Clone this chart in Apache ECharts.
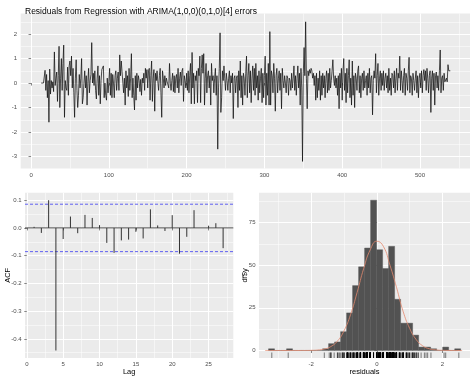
<!DOCTYPE html>
<html>
<head>
<meta charset="utf-8">
<script src="https://cdn.jsdelivr.net/npm/echarts@6/dist/echarts.min.js"></script>
<style>
html,body{margin:0;padding:0;background:#fff;}
#c{width:474px;height:379px;}
</style>
</head>
<body>
<div id="c"></div>
<script>
// ---------------- data ----------------
const chartTitle = 'Residuals from Regression with ARIMA(1,0,0)(0,1,0)[4] errors';
const tsStart = 13;
const residuals = [
0, 0, 0, 0, 0.01, 0.52, -0.3, 0.35, -0.6, 0.1,
-1.6, 0.57, -0.45, 0.1, -0.2, 0.05, -0.35, 1.27, -0.1, 0.2,
0.45, -0.75, 0.3, 1.5, -1.0, 0.2, 1.0, -0.3, 0.8, 1.55,
-1.4, 0.1, -0.2, -0.3, 0.65, -0.5, 0.7, 0.9, 0.3, 1.1,
-0.2, 0.6, -0.4, -1.4, 0.2, 0.95, -0.3, -1.0, -0.5, 0.35,
-0.2, 0.2, 1.0, -0.85, -0.6, 0.0, 0.5, -0.2, 0.3, -0.9,
0.05, 0.6, -0.4, 0.1, 0.35, 1.65, 0.0, 0.4, -0.1, 0.5,
-0.3, -0.65, 0.2, 0.7, -0.5, 0.3, -0.85, 0.1, 0.55, 0.5,
0.7, -0.6, 0.0, -0.5, -0.7, 0.2, -0.4, 0.05, 0.6, -0.5,
0.4, -0.6, 0.35, 0.0, -0.6, 0.3, 0.5, -0.3, 0.2, 0.45,
-0.3, 1.15, 0.3, 0.9, 0.45, 0.5, -0.4, 0.2, -0.9, 0.5,
-0.2, 0.3, -0.55, 0.6, -0.3, 0.2, 1.2, -0.6, 0.2, -0.5,
-1.1, 0.3, -0.7, 0.4, -0.2, 0.3, 0.1, -0.35, 0.15, -0.5,
0.2, 0.0, 0.4, -0.3, 0.6, 0.2, 0.55, -0.2, 0.5, 0.6,
-0.7, 0.3, 0.9, -0.75, 0.2, 0.55, -1.15, 0.4, 0.1, 0.5,
0.05, -0.3, 0.3, 0.6, -0.4, -1.4, 0.5, 0.2, -0.2, 0.3,
-0.1, 0.2, 0.05, 0.1, -0.2, 0.8, 0.0, -0.3, 0.1, 0.4,
-0.35, 0.3, -0.4, 0.2, 0.35, -0.2, 0.6, -0.4, 0.2, 0.45,
-0.1, 0.5, 0.6, -0.75, 0.3, 0.1, -0.2, 0.4, -0.3, 0.5,
-0.4, 0.3, 0.8, -0.85, 1.25, -0.2, 0.4, -0.85, 0.3, 0.1,
0.5, -0.8, 0.6, 0.3, 1.1, -0.8, 0.6, 1.15, 0.4, 1.2,
-0.9, 0.2, 0.8, -0.4, 0.3, 0.5, -0.2, 0.3, -0.9, 0.8,
0.1, 0.3, -0.4, 0.2, 0.6, -0.5, 0.3, -2.7, -0.2, 0.6,
2.05, -1.2, -0.6, 0.5, 0.1, 0.7, 0.2, -0.3, 0.4, 0.1,
-0.3, 0.2, 0.5, -0.4, 0.3, 0.0, 0.4, -1.45, 0.2, 0.3,
-0.4, 0.2, 0.3, -1.0, 0.5, -0.3, 0.9, -0.6, 0.3, -0.9,
0.4, 0.2, -0.5, 0.4, 1.1, -0.6, 0.3, 0.8, -0.4, 0.5,
-0.8, 0.2, 0.7, -0.3, 0.6, -0.5, 0.8, -0.2, 0.3, -0.7,
0.5, -0.4, 0.2, 0.6, -0.8, 0.4, -0.6, 0.3, 1.1, -0.9,
0.4, -0.5, 0.8, -0.9, 2.1, -0.9, 0.5, 0.3, -0.4, 0.8,
0.2, -1.15, 0.3, 0.6, -0.4, 0.2, 0.5, -0.3, 0.4, -1.05,
0.6, 0.1, -0.2, 0.3, 0.0, -0.4, 0.3, 0.2, -0.5, 0.2,
0.1, -0.3, 0.4, -0.2, 0.2, 0.7, -0.3, 0.3, -0.5, 0.2,
0.7, -0.2, 0.4, -0.9, 0.6, -0.2, -3.2, 0.4, 1.45, 0.3,
2.5, 0.2, -1.05, 0.5, 0.3, 0.55, 0.4, 0.6, 0.5, 0.2,
0.4, -0.1, 0.3, -0.7, 0.4, -0.6, 0.2, -0.3, 0.5, -0.7,
0.3, -0.5, 0.4, -0.2, 0.3, -0.6, 0.2, 0.5, -0.4, 0.4,
-0.3, 0.6, -0.2, 0.1, 0.5, 0.95, 0.2, -0.1, 0.3, -0.2,
0.2, -0.5, 0.3, -1.05, 0.4, -0.2, 0.6, -0.7, 0.5, 1.0,
-0.3, 0.4, -0.8, 0.6, -0.4, 0.3, 0.95, -0.6, 0.2, -0.9,
0.9, -0.5, 0.3, -1.0, 0.4, 0.2, -0.3, 0.5, 0.7, -0.4,
0.3, -0.6, 0.2, 0.4, -0.3, 0.5, -0.2, 0.1, 0.3, -0.5,
0.4, -0.2, 0.6, -0.4, 0.2, 0.3, -1.3, 0.1, 0.5, 0.2,
1.2, -0.4, 0.3, 0.8, -0.5, 0.2, 0.5, -0.3, 0.4, -0.1,
0.5, -0.3, 0.2, 0.4, -0.2, 0.3, -0.4, 0.6, -0.3, 0.2,
-0.5, 0.4, 0.3, -0.2, 0.5, -0.4, 0.2, 0.6, -0.3, 0.4,
0.2, 1.1, -0.3, 0.5, 0.1, -0.4, 0.3, 0.6, -0.5, 0.4,
0.2, -0.3, 0.5, 1.05, -0.4, 0.3, 0.2, -0.5, 0.4, 0.1,
-0.3, 0.2, 0.5, -0.4, 0.3, -0.6, 0.2, 0.4, -0.2, 0.5,
-0.4, 0.3, 0.55, 0.1, 0.5, -0.3, 0.6, 0.2, -0.4, 0.3,
0.5, -1.2, 0.2, 0.5, -0.3, 0.4, -0.9, 0.3, 0.45, -0.2,
0.3, -0.3, 0.5, 1.35, -0.4, 0.2, 0.3, -0.3, 0.4, 0.05,
0.1, 0.2, 0.05, 0.75, 0.5, 0.55, 0.5
];

const acfLags = [1,2,3,4,5,6,7,8,9,10,11,12,13,14,15,16,17,18,19,20,21,22,23,24,25,26,27];
const acfValues = [0.004,-0.018,0.100,-0.442,-0.040,0.041,-0.019,0.047,0.036,0.010,-0.054,-0.090,-0.045,-0.042,-0.014,-0.038,0.067,0.009,-0.011,0.046,-0.093,-0.032,0.064,0.000,0.008,0.017,-0.073];
const acfBound = 0.0855;

const binStart = -3.30;
const binWidth = 0.183;
const binCounts = [1,0,0,1,0,0,0,0,0,1,4,5,11,22,38,49,60,88,59,48,61,30,16,16,9,2,2,1,0,2,0,1];

const curveX = [-3.4,-3.2,-3.0,-2.8,-2.6,-2.4,-2.2,-2.0,-1.8,-1.6,-1.4,-1.2,-1.0,-0.8,-0.6,-0.4,-0.2,0,0.2,0.4,0.6,0.8,1.0,1.2,1.4,1.6,1.8,2.0,2.2,2.4,2.6];
const curveY = [0,0,0,0,0,0.01,0.02,0.08,0.27,0.84,2.3,5.5,11.5,21,34,48,59,64,61,50,37,23,13,6.4,2.7,1.0,0.34,0.1,0.03,0.01,0];

const tsXTicks = [0,100,200,300,400,500];
const tsXMinor = [50,150,250,350,450,550];
const tsYTicks = [-3,-2,-1,0,1,2];
const tsYMinor = [-2.5,-1.5,-0.5,0.5,1.5,2.5];
const acfXTicks = [0,5,10,15,20,25];
const acfXMinor = [2.5,7.5,12.5,17.5,22.5,27.5];
const acfYTicks = [-0.4,-0.3,-0.2,-0.1,0,0.1];
const acfYMinor = [-0.45,-0.35,-0.25,-0.15,-0.05,0.05];
const histXTicks = [-2,0,2];
const histXMinor = [-3,-1,1];
const histYTicks = [0,25,50,75];
const histYMinor = [12.5,37.5,62.5,87.5];

// axis extents
const tsXRange = [-13.3, 564.3], tsYRange = [-3.49, 2.84];
const acfXRange = [-0.25, 28.4], acfYRange = [-0.469, 0.127];
const histXRange = [-3.59, 2.84], histYRange = [-4.4, 92.4];

// ---------------- helpers ----------------
const FONT = 'Liberation Sans, Arial, sans-serif';
const LABEL_COLOR = '#4d4d4d';

function mainAxis(dim, gridIndex, range, ticks, fmt, extra) {
  return Object.assign({
    type: 'value', gridIndex, min: range[0], max: range[1],
    position: dim === 'x' ? 'bottom' : 'left',
    axisLine: {show: false},
    axisTick: {show: true, length: 2.5, customValues: ticks, lineStyle: {color: '#333', width: 0.6}},
    axisLabel: {show: true, customValues: ticks, color: LABEL_COLOR, fontSize: 6, fontFamily: FONT,
      margin: 3.5, formatter: fmt || (v => String(v)), showMinLabel: true, showMaxLabel: true},
    splitLine: {show: true, lineStyle: {color: '#ffffff', width: 1}},
    nameMoveOverlap: false,
    nameTextStyle: {color: '#000', fontSize: 7.5, fontFamily: FONT}
  }, extra || {});
}
function minorAxis(dim, gridIndex, range, ticks) {
  return {
    type: 'value', gridIndex, min: range[0], max: range[1],
    position: dim === 'x' ? 'bottom' : 'left',
    axisLine: {show: false},
    axisTick: {show: false, customValues: ticks},
    axisLabel: {show: false, customValues: ticks},
    splitLine: {show: true, lineStyle: {color: '#ffffff', width: 0.5}}
  };
}

const tsData = residuals.map((v, i) => [tsStart + i, v]);
const acfData = acfLags.map((l, i) => [l, acfValues[i]]);
const histData = binCounts.map((c, i) => [binStart + i * binWidth, binStart + (i + 1) * binWidth, c]);
const curveData = curveX.map((x, i) => [x, curveY[i]]);
const hLine = (y) => [[acfXRange[0], y], [acfXRange[1], y]];

const chart = echarts.init(document.getElementById('c'), null, {renderer: 'canvas'});
const option = {
  animation: false,
  backgroundColor: '#ffffff',
  title: {
    text: chartTitle, left: 20, top: 2,
    textStyle: {fontSize: 8.5, fontWeight: 'normal', color: '#000', fontFamily: FONT}
  },
  grid: [
    {left: 20.7, top: 13.5, width: 449.3, height: 155, show: true, backgroundColor: '#EBEBEB', borderWidth: 0, containLabel: false, outerBoundsMode: 'none'},
    {left: 25, top: 192.7, width: 208.3, height: 165.3, show: true, backgroundColor: '#EBEBEB', borderWidth: 0, containLabel: false, outerBoundsMode: 'none'},
    {left: 259, top: 192.7, width: 211, height: 165.3, show: true, backgroundColor: '#EBEBEB', borderWidth: 0, containLabel: false, outerBoundsMode: 'none'}
  ],
  xAxis: [
    mainAxis('x', 0, tsXRange, tsXTicks),
    minorAxis('x', 0, tsXRange, tsXMinor),
    mainAxis('x', 1, acfXRange, acfXTicks, null, {name: 'Lag', nameLocation: 'middle', nameGap: 10}),
    minorAxis('x', 1, acfXRange, acfXMinor),
    mainAxis('x', 2, histXRange, histXTicks, null, {name: 'residuals', nameLocation: 'middle', nameGap: 10}),
    minorAxis('x', 2, histXRange, histXMinor)
  ],
  yAxis: [
    mainAxis('y', 0, tsYRange, tsYTicks),
    minorAxis('y', 0, tsYRange, tsYMinor),
    mainAxis('y', 1, acfYRange, acfYTicks, v => v.toFixed(1), {name: 'ACF', nameLocation: 'middle', nameGap: 13, nameRotate: 90}),
    minorAxis('y', 1, acfYRange, acfYMinor),
    mainAxis('y', 2, histYRange, histYTicks, null, {name: 'df$y', nameLocation: 'middle', nameGap: 10, nameRotate: 90}),
    minorAxis('y', 2, histYRange, histYMinor)
  ],
  series: [
    {
      type: 'line', xAxisIndex: 0, yAxisIndex: 0, data: tsData,
      showSymbol: false, symbol: 'none',
      lineStyle: {color: '#111', width: 0.75}, z: 3
    },
    {
      type: 'line', xAxisIndex: 2, yAxisIndex: 2, data: hLine(0), symbol: 'none', z: 3,
      lineStyle: {color: '#222', width: 0.8}
    },
    {
      type: 'line', xAxisIndex: 2, yAxisIndex: 2, data: hLine(acfBound), symbol: 'none', z: 3,
      lineStyle: {color: '#5050f0', width: 0.9, type: [3, 2]}
    },
    {
      type: 'line', xAxisIndex: 2, yAxisIndex: 2, data: hLine(-acfBound), symbol: 'none', z: 3,
      lineStyle: {color: '#5050f0', width: 0.9, type: [3, 2]}
    },
    {
      type: 'custom', xAxisIndex: 2, yAxisIndex: 2, data: acfData, z: 4,
      renderItem: function (params, api) {
        const p0 = api.coord([api.value(0), 0]);
        const p1 = api.coord([api.value(0), api.value(1)]);
        return {type: 'line', shape: {x1: p0[0], y1: p0[1], x2: p1[0], y2: p1[1]},
          style: {stroke: '#333333', lineWidth: 1}};
      }
    },
    {
      type: 'custom', xAxisIndex: 4, yAxisIndex: 4, data: histData, z: 3,
      renderItem: function (params, api) {
        const a = api.coord([api.value(0), api.value(2)]);
        const b = api.coord([api.value(1), 0]);
        return {type: 'rect', shape: {x: a[0], y: a[1], width: b[0] - a[0], height: b[1] - a[1]},
          style: {fill: '#525252', stroke: '#525252', lineWidth: 0.4}};
      }
    },
    {
      type: 'line', xAxisIndex: 4, yAxisIndex: 4, data: curveData, smooth: true,
      showSymbol: false, symbol: 'none', z: 4,
      lineStyle: {color: '#e3896f', width: 0.8}
    },
    {
      type: 'custom', xAxisIndex: 4, yAxisIndex: 4, data: residuals.map(v => [v]), z: 4,
      renderItem: function (params, api) {
        const p = api.coord([api.value(0), 0]);
        const bottom = params.coordSys.y + params.coordSys.height;
        return {type: 'line', shape: {x1: p[0], y1: bottom, x2: p[0], y2: bottom - 5.5},
          style: {stroke: '#000', lineWidth: 0.5}};
      }
    }
  ]
};
chart.setOption(option);
</script>
</body>
</html>
